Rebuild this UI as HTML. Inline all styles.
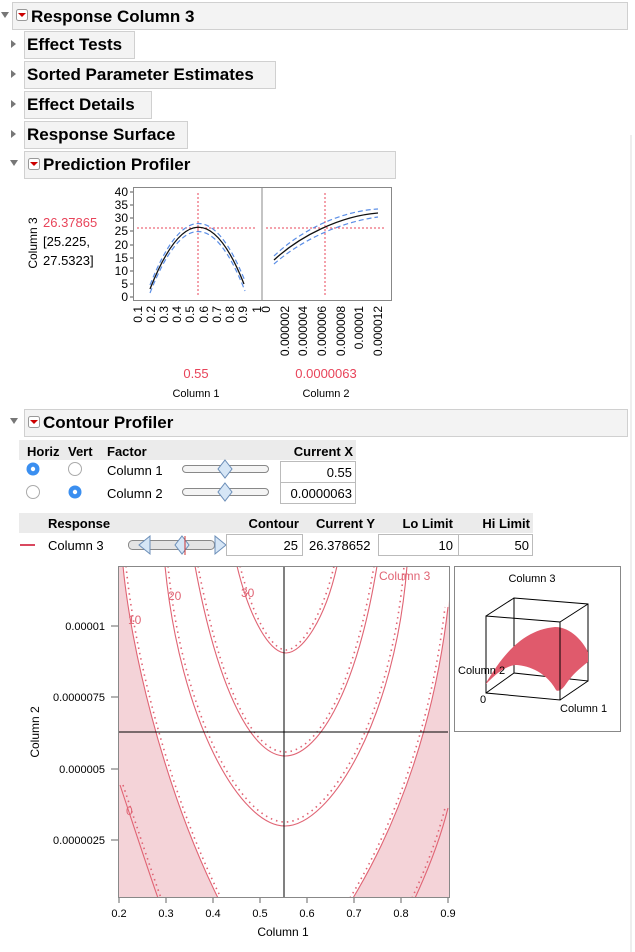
<!DOCTYPE html>
<html><head><meta charset="utf-8"><style>
html,body{margin:0;padding:0;background:#fff;width:635px;height:952px;overflow:hidden}
svg{display:block;font-family:"Liberation Sans",sans-serif}
.h{font-weight:bold;font-size:17px;fill:#000}
.t{font-size:12px;fill:#000}
.s{font-size:11px;fill:#000}
</style></head><body>
<svg width="635" height="952" viewBox="0 0 635 952" xmlns="http://www.w3.org/2000/svg">
<line x1="631" y1="135" x2="631" y2="952" stroke="#ddd"/>
<g stroke="#d0d0d0" fill="#f3f3f3">
<rect x="12.5" y="2.5" width="615" height="27"/>
<rect x="24.5" y="31.5" width="110" height="27"/>
<rect x="24.5" y="61.5" width="251" height="27"/>
<rect x="24.5" y="91.5" width="127" height="27"/>
<rect x="24.5" y="121.5" width="163" height="27"/>
<rect x="24.5" y="151.5" width="371" height="27"/>
<rect x="24.5" y="409.5" width="603" height="27"/>
</g>
<g fill="#777">
<polygon points="1,12 9,12 5,18"/>
<polygon points="11,40 16,44 11,48"/>
<polygon points="11,70 16,74 11,78"/>
<polygon points="11,100 16,104 11,108"/>
<polygon points="11,130 16,134 11,138"/>
<polygon points="10,160 18,160 14,166"/>
<polygon points="10,418 18,418 14,424"/>
</g>
<g>
<rect x="16.5" y="9.5" width="11" height="11" fill="#fff" stroke="#999" rx="2"/><polygon points="18,13 26,13 22,17" fill="#c00"/>
<rect x="28.5" y="158.5" width="11" height="11" fill="#fff" stroke="#999" rx="2"/><polygon points="30,162 38,162 34,166" fill="#c00"/>
<rect x="28.5" y="416.5" width="11" height="11" fill="#fff" stroke="#999" rx="2"/><polygon points="30,420 38,420 34,424" fill="#c00"/>
</g>
<text class="h" x="31" y="22">Response Column 3</text>
<text class="h" x="27" y="50">Effect Tests</text>
<text class="h" x="27" y="80">Sorted Parameter Estimates</text>
<text class="h" x="27" y="110">Effect Details</text>
<text class="h" x="27" y="140">Response Surface</text>
<text class="h" x="43" y="170">Prediction Profiler</text>
<text class="h" x="43" y="428">Contour Profiler</text>

<text class="t" transform="translate(37,243) rotate(-90)" text-anchor="middle">Column 3</text>
<text x="43" y="227" style="font-size:13px;fill:#e8445a">26.37865</text>
<text x="43" y="246" style="font-size:13px">[25.225,</text>
<text x="43" y="265" style="font-size:13px">27.5323]</text>
<rect x="133.5" y="187.5" width="258" height="113" fill="none" stroke="#888"/>
<line x1="262" y1="187" x2="262" y2="301" stroke="#888"/>
<g class="t" text-anchor="end" style="font-size:12px">
<text x="128" y="196">40</text><text x="128" y="209">35</text><text x="128" y="222">30</text><text x="128" y="235">25</text><text x="128" y="249">20</text><text x="128" y="262">15</text><text x="128" y="275">10</text><text x="128" y="288">5</text><text x="128" y="301">0</text>
</g>
<g stroke="#555"><line x1="130" y1="192" x2="133" y2="192"/><line x1="130" y1="205" x2="133" y2="205"/><line x1="130" y1="218" x2="133" y2="218"/><line x1="130" y1="231" x2="133" y2="231"/><line x1="130" y1="245" x2="133" y2="245"/><line x1="130" y1="258" x2="133" y2="258"/><line x1="130" y1="271" x2="133" y2="271"/><line x1="130" y1="284" x2="133" y2="284"/><line x1="130" y1="297" x2="133" y2="297"/></g>
<g stroke="#e8445a" stroke-dasharray="2,2" stroke-width="1">
<line x1="137" y1="228" x2="256" y2="228"/><line x1="198" y1="193" x2="198" y2="297"/>
<line x1="266" y1="228" x2="386" y2="228"/><line x1="325" y1="193" x2="325" y2="297"/>
</g>
<g fill="none" stroke="#5b8ee6" stroke-dasharray="5,3" stroke-width="1.2">
<path d="M150,293 Q198,171 245,291"/><path d="M150,285 Q198,164 245,281"/>
<path d="M274,264 C300,241 340,222 378,217"/><path d="M274,256 C300,231 340,211 378,209"/>
</g>
<g fill="none" stroke="#111" stroke-width="1.3">
<path d="M150,289 Q198,168 244,284"/>
<path d="M274,260 C300,236 340,216 378,213"/>
</g>
<g class="t" style="font-size:12px">
<text transform="translate(142,306) rotate(-90)" text-anchor="end">0.1</text>
<text transform="translate(155,306) rotate(-90)" text-anchor="end">0.2</text>
<text transform="translate(168,306) rotate(-90)" text-anchor="end">0.3</text>
<text transform="translate(181,306) rotate(-90)" text-anchor="end">0.4</text>
<text transform="translate(194,306) rotate(-90)" text-anchor="end">0.5</text>
<text transform="translate(208,306) rotate(-90)" text-anchor="end">0.6</text>
<text transform="translate(221,306) rotate(-90)" text-anchor="end">0.7</text>
<text transform="translate(234,306) rotate(-90)" text-anchor="end">0.8</text>
<text transform="translate(247,306) rotate(-90)" text-anchor="end">0.9</text>
<text transform="translate(261,306) rotate(-90)" text-anchor="end">1</text>
<text transform="translate(270,306) rotate(-90)" text-anchor="end">0</text>
<text transform="translate(289,306) rotate(-90)" text-anchor="end">0.000002</text>
<text transform="translate(307,306) rotate(-90)" text-anchor="end">0.000004</text>
<text transform="translate(326,306) rotate(-90)" text-anchor="end">0.000006</text>
<text transform="translate(345,306) rotate(-90)" text-anchor="end">0.000008</text>
<text transform="translate(363,306) rotate(-90)" text-anchor="end">0.00001</text>
<text transform="translate(382,306) rotate(-90)" text-anchor="end">0.000012</text>
</g>
<text x="196" y="378" text-anchor="middle" style="font-size:13px;fill:#e8445a">0.55</text>
<text x="326" y="378" text-anchor="middle" style="font-size:13px;fill:#e8445a">0.0000063</text>
<text x="196" y="397" text-anchor="middle" class="s">Column 1</text>
<text x="326" y="397" text-anchor="middle" class="s">Column 2</text>

<rect x="19" y="440" width="337" height="20" fill="#ebebeb"/>
<text x="27" y="456" style="font-size:13px;font-weight:bold">Horiz</text>
<text x="68" y="456" style="font-size:13px;font-weight:bold">Vert</text>
<text x="107" y="456" style="font-size:13px;font-weight:bold">Factor</text>
<text x="353" y="456" text-anchor="end" style="font-size:13px;font-weight:bold">Current X</text>
<circle cx="33" cy="469" r="6.5" fill="#3b8ff0"/><circle cx="33" cy="469" r="2.2" fill="#fff"/>
<circle cx="75" cy="469" r="6.5" fill="#fff" stroke="#aaa"/>
<circle cx="33" cy="492" r="6.5" fill="#fff" stroke="#aaa"/>
<circle cx="75" cy="492" r="6.5" fill="#3b8ff0"/><circle cx="75" cy="492" r="2.2" fill="#fff"/>
<text x="107" y="475" style="font-size:13px">Column 1</text>
<text x="107" y="498" style="font-size:13px">Column 2</text>
<rect x="182.5" y="465.5" width="86" height="7" rx="3.5" fill="#f4f4f4" stroke="#888"/>
<rect x="182.5" y="488.5" width="86" height="7" rx="3.5" fill="#f4f4f4" stroke="#888"/>
<polygon points="225,460 232,469 225,478 218,469" fill="#d6e6f6" stroke="#6b8eb8"/>
<polygon points="225,483 232,492 225,501 218,492" fill="#d6e6f6" stroke="#6b8eb8"/>
<rect x="280.5" y="461.5" width="75" height="21" fill="#fff" stroke="#bbb"/>
<rect x="280.5" y="482.5" width="75" height="21" fill="#fff" stroke="#bbb"/>
<text x="352" y="477" text-anchor="end" style="font-size:13px">0.55</text>
<text x="352" y="498" text-anchor="end" style="font-size:13px">0.0000063</text>

<rect x="19" y="513" width="514" height="20" fill="#ebebeb"/>
<g style="font-size:13px;font-weight:bold">
<text x="48" y="528">Response</text>
<text x="299" y="528" text-anchor="end">Contour</text>
<text x="375" y="528" text-anchor="end">Current Y</text>
<text x="453" y="528" text-anchor="end">Lo Limit</text>
<text x="530" y="528" text-anchor="end">Hi Limit</text>
</g>
<line x1="20" y1="545" x2="35" y2="545" stroke="#d9485f" stroke-width="2"/>
<text x="48" y="550" style="font-size:13px">Column 3</text>
<rect x="128.5" y="540.5" width="86" height="9" rx="4" fill="#e4e4e4" stroke="#888"/>
<polygon points="150,536 139,545 150,554" fill="#d6e6f6" stroke="#6b8eb8"/>
<polygon points="182,536 189,545 182,554 175,545" fill="#d6e6f6" stroke="#6b8eb8"/>
<line x1="185" y1="536" x2="185" y2="555" stroke="#c33"/>
<polygon points="215,536 226,545 215,554" fill="#d6e6f6" stroke="#6b8eb8"/>
<rect x="226.5" y="534.5" width="76" height="21" fill="#fff" stroke="#bbb"/>
<text x="298" y="550" text-anchor="end" style="font-size:13px">25</text>
<text x="309" y="550" style="font-size:13px">26.378652</text>
<rect x="378.5" y="534.5" width="80" height="21" fill="#fff" stroke="#bbb"/>
<rect x="458.5" y="534.5" width="74" height="21" fill="#fff" stroke="#bbb"/>
<text x="453" y="550" text-anchor="end" style="font-size:13px">10</text>
<text x="529" y="550" text-anchor="end" style="font-size:13px">50</text>

<defs><clipPath id="cp"><rect x="118" y="566" width="331" height="332"/></clipPath></defs>
<g clip-path="url(#cp)">
<path d="M118,566 L123,566 C130,640 160,780 218,898 L118,898 Z" fill="#f4d3d8"/>
<path d="M449,566 L449,898 L353,898 C400,820 435,720 448,607 L449,600 Z" fill="#f4d3d8"/>
<g fill="none" stroke="#e06474" stroke-width="1.1">
<path d="M123,566 C130,640 160,780 218,898"/>
<path d="M353,898 C400,820 435,720 448,607"/>
<path d="M120,785 C135,830 148,870 158,898"/>
<path d="M415,898 C428,870 440,840 448,808"/>
<path d="M165,566 C180,720 240,826 285,826 C330,826 395,720 407,566"/>
<path d="M195,566 C220,700 255,756 285,756 C315,756 355,700 377,566"/>
<path d="M237,566 C250,620 270,653 286,653 C302,653 325,620 337,566"/>
</g>
<g fill="none" stroke="#e06474" stroke-width="1.6" stroke-dasharray="1.5,4">
<path d="M126,566 C133,640 163,780 221,898"/>
<path d="M350,898 C397,820 432,720 445,607"/>
<path d="M123,785 C138,830 151,870 161,898"/>
<path d="M412,898 C425,870 437,840 445,808"/>
<path d="M168,566 C183,718 242,822 285,822 C328,822 392,718 404,566"/>
<path d="M198,566 C223,698 256,752 285,752 C314,752 352,698 374,566"/>
<path d="M240,566 C253,618 272,650 286,650 C300,650 322,618 334,566"/>
</g>
</g>
<line x1="284" y1="566" x2="284" y2="898" stroke="#000"/>
<line x1="119" y1="732" x2="448" y2="732" stroke="#000"/>
<rect x="118.5" y="566.5" width="331" height="331" fill="none" stroke="#888"/>
<g style="font-size:12px;fill:#e06474">
<text x="128" y="624">10</text><text x="168" y="600">20</text><text x="241" y="597">30</text><text x="126" y="815">0</text><text x="379" y="580">Column 3</text>
</g>
<g class="s" text-anchor="end">
<text x="105" y="630">0.00001</text><text x="105" y="701">0.0000075</text><text x="105" y="773">0.000005</text><text x="105" y="844">0.0000025</text>
</g>
<g stroke="#666"><line x1="111" y1="626" x2="118" y2="626"/><line x1="111" y1="697" x2="118" y2="697"/><line x1="111" y1="769" x2="118" y2="769"/><line x1="111" y1="840" x2="118" y2="840"/>
<line x1="119" y1="898" x2="119" y2="903"/><line x1="166" y1="898" x2="166" y2="903"/><line x1="213" y1="898" x2="213" y2="903"/><line x1="260" y1="898" x2="260" y2="903"/><line x1="307" y1="898" x2="307" y2="903"/><line x1="354" y1="898" x2="354" y2="903"/><line x1="401" y1="898" x2="401" y2="903"/><line x1="448" y1="898" x2="448" y2="903"/></g>
<g class="s" text-anchor="middle">
<text x="119" y="917">0.2</text><text x="166" y="917">0.3</text><text x="213" y="917">0.4</text><text x="260" y="917">0.5</text><text x="307" y="917">0.6</text><text x="354" y="917">0.7</text><text x="401" y="917">0.8</text><text x="448" y="917">0.9</text>
</g>
<text x="283" y="936" text-anchor="middle" class="t">Column 1</text>
<text transform="translate(39,732) rotate(-90)" text-anchor="middle" class="t">Column 2</text>

<rect x="454.5" y="566.5" width="166" height="165" fill="#fff" stroke="#888"/>
<text x="532" y="582" text-anchor="middle" class="s">Column 3</text>
<g fill="none" stroke="#000" stroke-width="1">
<polygon points="514,598 588,604 588,681 514,673"/>
<polygon points="486,616 560,622 560,700 486,693"/>
<line x1="486" y1="616" x2="514" y2="598"/><line x1="560" y1="622" x2="588" y2="604"/>
<line x1="486" y1="693" x2="514" y2="673"/><line x1="560" y1="700" x2="588" y2="681"/>
</g>
<path d="M486,683 C500,660 520,630 555,627 C570,627 582,640 588,652 L588,662 C580,668 572,675 566,684 C562,690 558,692 556,690 C545,670 525,665 515,665 C502,667 492,678 486,684 Z" fill="#e05a6c"/>
<line x1="560" y1="622" x2="560" y2="700" stroke="#000"/>
<text x="458" y="674" class="s">Column 2</text>
<text x="480" y="703" class="s">0</text>
<text x="560" y="712" class="s">Column 1</text>
</svg>
</body></html>
